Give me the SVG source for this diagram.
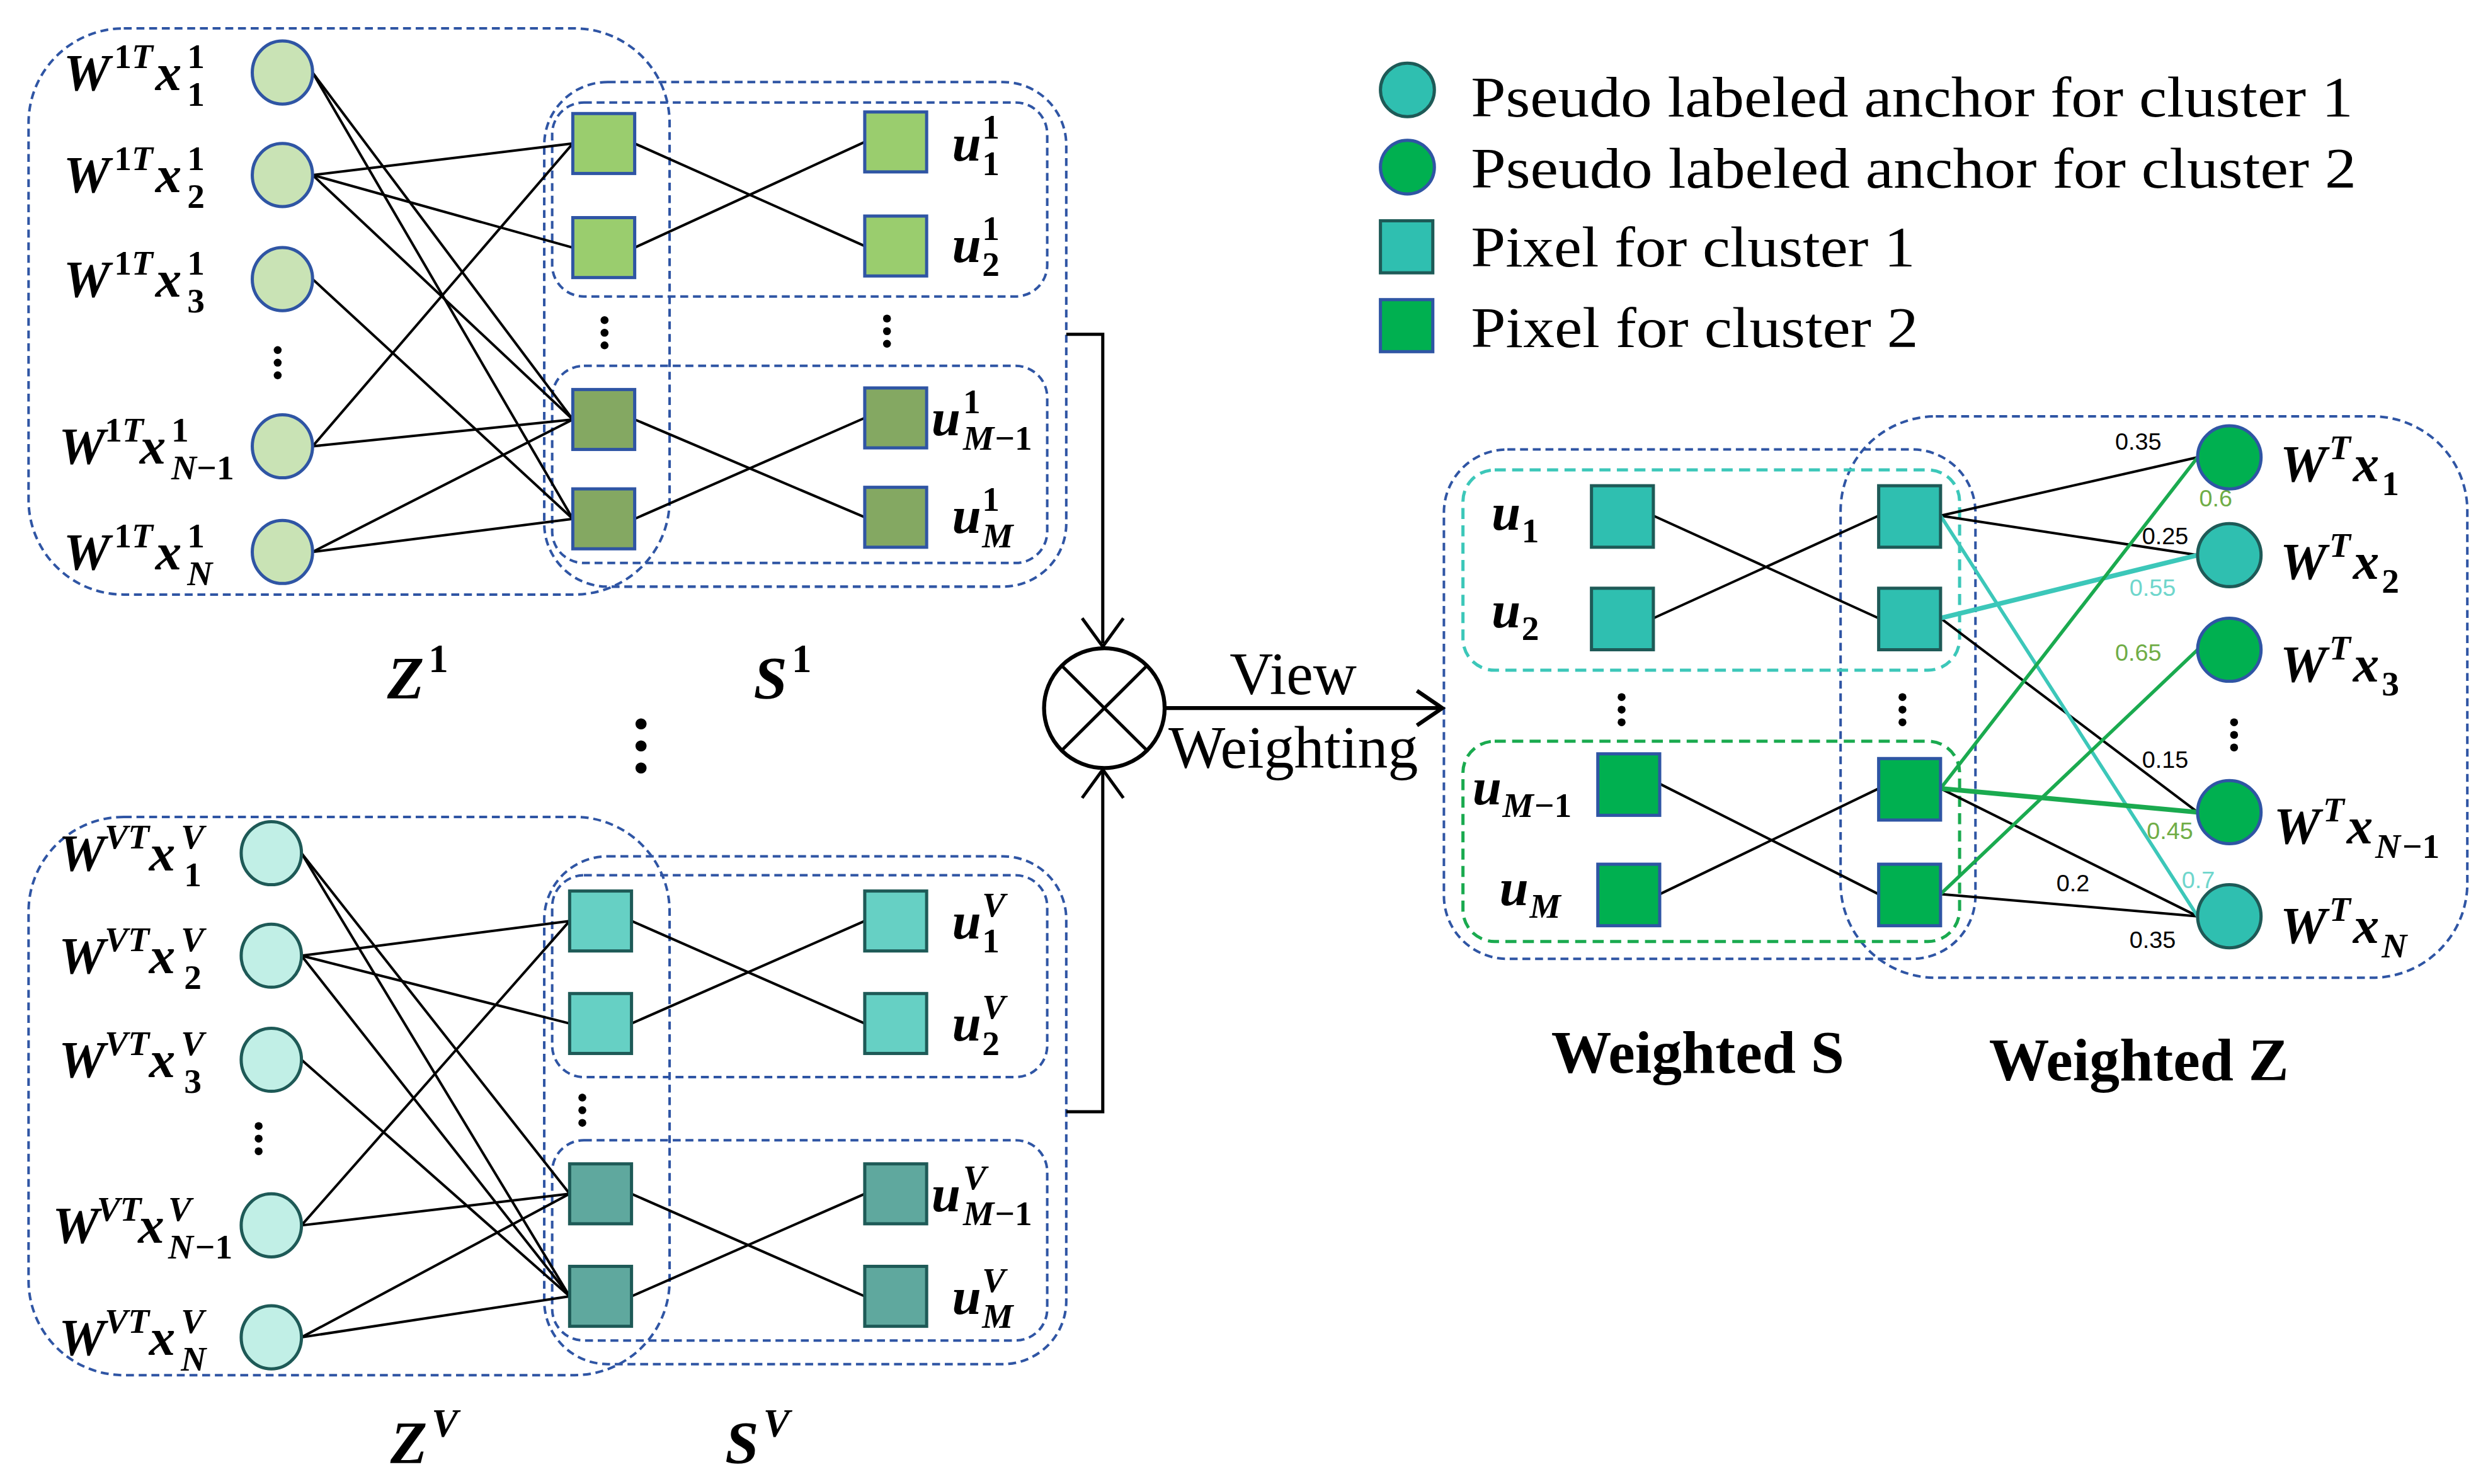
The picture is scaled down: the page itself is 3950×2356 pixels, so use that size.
<svg xmlns="http://www.w3.org/2000/svg" width="3950" height="2356" viewBox="0 0 3950 2356">
<style>
.bg{fill:#fff}
.db{fill:none;stroke:#2f55a4;stroke-width:1.6;stroke-dasharray:5 3}
.dt{fill:none;stroke:#3cc7b9;stroke-width:2;stroke-dasharray:7 4}
.dg{fill:none;stroke:#1aaa4f;stroke-width:2;stroke-dasharray:7 4}
.e line{stroke:#000;stroke-width:1.6}
.m text{font-family:"Liberation Serif",serif;font-weight:bold;font-style:italic;font-size:33px;fill:#000}
.m text.s{font-size:22px;font-style:normal}
.m text.si{font-size:22px}
.m text.big{font-size:38px}
.m text.bs{font-size:25px;font-style:normal}
.m text.bsi{font-size:25px}
.c1{fill:#c9e3b5;stroke:#2f55a4;stroke-width:2}
.q1{fill:#9acd6e;stroke:#2f55a4;stroke-width:2}
.q2{fill:#84a862;stroke:#2f55a4;stroke-width:2}
.cv{fill:#c1efe6;stroke:#1e5a57;stroke-width:2}
.qv1{fill:#66d0c4;stroke:#1e5a57;stroke-width:2}
.qv2{fill:#5fa89e;stroke:#1e5a57;stroke-width:2}
.tq{fill:#2fbfb0;stroke:#1e5a57;stroke-width:2}
.gq{fill:#00b050;stroke:#2f55a4;stroke-width:2}
.tc{fill:#2fbfb0;stroke:#1e5a57;stroke-width:2}
.gc{fill:#00b050;stroke:#2f55a4;stroke-width:2}
.lg{font-family:"Liberation Serif",serif;font-size:36px;fill:#000}
.vw{font-family:"Liberation Serif",serif;font-size:38px;fill:#000}
.bt{font-family:"Liberation Serif",serif;font-size:38px;font-weight:bold;fill:#000}
.w{font-family:"Liberation Sans",sans-serif;font-size:15px}
.dot{fill:#000}
</style>
<rect class="bg" width="3950" height="2356"/>
<g transform="scale(2.5191,2.5037)">
<g id="containers">
<rect class="db" x="18" y="18" width="404" height="359" rx="60"/>
<rect class="db" x="343" y="52" width="329" height="320" rx="40"/>
<rect class="db" x="348" y="65" width="312" height="123" rx="20"/>
<rect class="db" x="348" y="232" width="312" height="125" rx="20"/>
<rect class="db" x="18" y="518" width="404" height="354" rx="60"/>
<rect class="db" x="343" y="543" width="329" height="322" rx="40"/>
<rect class="db" x="348" y="555" width="312" height="128" rx="20"/>
<rect class="db" x="348" y="723" width="312" height="127" rx="20"/>
<rect class="db" x="910" y="285" width="335" height="323" rx="40"/>
<rect class="db" x="1160" y="264" width="395" height="356" rx="60"/>
<rect class="dt" x="922" y="298" width="313" height="127" rx="20"/>
<rect class="dg" x="922" y="470" width="313" height="127" rx="20"/>
</g>
<g id="connectors" class="e">
<line x1="197" y1="46" x2="361" y2="266"/><line x1="197" y1="46" x2="361" y2="329"/>
<line x1="197" y1="111" x2="361" y2="91"/><line x1="197" y1="111" x2="361" y2="157"/><line x1="197" y1="111" x2="361" y2="266"/>
<line x1="197" y1="177" x2="361" y2="329"/>
<line x1="197" y1="283" x2="361" y2="91"/><line x1="197" y1="283" x2="361" y2="266"/>
<line x1="197" y1="350" x2="361" y2="266"/><line x1="197" y1="350" x2="361" y2="329"/>
<line x1="400" y1="91" x2="545" y2="156"/><line x1="400" y1="157" x2="545" y2="90"/>
<line x1="400" y1="266" x2="545" y2="328"/><line x1="400" y1="329" x2="545" y2="265"/>
<line x1="190" y1="541" x2="359" y2="757"/><line x1="190" y1="541" x2="359" y2="822"/>
<line x1="190" y1="606" x2="359" y2="584"/><line x1="190" y1="606" x2="359" y2="649"/><line x1="190" y1="606" x2="359" y2="822"/>
<line x1="190" y1="672" x2="359" y2="822"/>
<line x1="190" y1="777" x2="359" y2="584"/><line x1="190" y1="777" x2="359" y2="757"/>
<line x1="190" y1="848" x2="359" y2="757"/><line x1="190" y1="848" x2="359" y2="822"/>
<line x1="398" y1="584" x2="545" y2="649"/><line x1="398" y1="649" x2="545" y2="584"/>
<line x1="398" y1="757" x2="545" y2="822"/><line x1="398" y1="822" x2="545" y2="757"/>
<line x1="1042" y1="327" x2="1184" y2="392"/><line x1="1042" y1="392" x2="1184" y2="327"/>
<line x1="1046" y1="497" x2="1184" y2="567"/><line x1="1046" y1="567" x2="1184" y2="500"/>
<line x1="1223" y1="327" x2="1385" y2="290"/><line x1="1223" y1="327" x2="1385" y2="352"/>
<line x1="1223" y1="392" x2="1385" y2="515"/>
<line x1="1223" y1="500" x2="1385" y2="581"/><line x1="1223" y1="567" x2="1385" y2="581"/>
<line x1="1223" y1="327" x2="1385" y2="581" style="stroke:#3cc7b9;stroke-width:2.2"/>
<line x1="1223" y1="392" x2="1385" y2="352" style="stroke:#3cc7b9;stroke-width:3"/>
<line x1="1223" y1="500" x2="1385" y2="290" style="stroke:#1aaa4f;stroke-width:2.2"/>
<line x1="1223" y1="500" x2="1385" y2="515" style="stroke:#1aaa4f;stroke-width:3"/>
<line x1="1223" y1="567" x2="1385" y2="412" style="stroke:#1aaa4f;stroke-width:2.2"/>
<polyline points="672,212 695,212 695,408" style="fill:none;stroke:#000;stroke-width:2"/>
<polyline points="682,392 695,410 708,392" style="fill:none;stroke:#000;stroke-width:2"/>
<polyline points="672,705 695,705 695,489" style="fill:none;stroke:#000;stroke-width:2"/>
<polyline points="682,506 695,488 708,506" style="fill:none;stroke:#000;stroke-width:2"/>
<line x1="734" y1="449" x2="908" y2="449" style="stroke-width:2.5"/>
<polyline points="893,438 909,449 893,460" style="fill:none;stroke:#000;stroke-width:2.5"/>
</g>
<g id="edge-weights" class="w">
<text x="1333" y="285">0.35</text>
<text x="1386" y="321" fill="#70ad47">0.6</text>
<text x="1350" y="345">0.25</text>
<text x="1342" y="378" fill="#6fd6cc">0.55</text>
<text x="1333" y="419" fill="#70ad47">0.65</text>
<text x="1350" y="487">0.15</text>
<text x="1353" y="532" fill="#70ad47">0.45</text>
<text x="1375" y="563" fill="#6fd6cc">0.7</text>
<text x="1296" y="565">0.2</text>
<text x="1342" y="601">0.35</text>
</g>
<g id="view-z1">
<ellipse class="c1" cx="178" cy="46" rx="19" ry="20"/><ellipse class="c1" cx="178" cy="111" rx="19" ry="20"/><ellipse class="c1" cx="178" cy="177" rx="19" ry="20"/><ellipse class="c1" cx="178" cy="283" rx="19" ry="20"/><ellipse class="c1" cx="178" cy="350" rx="19" ry="20"/>
<circle class="dot" cx="175" cy="222" r="2.5"/><circle class="dot" cx="175" cy="230" r="2.5"/><circle class="dot" cx="175" cy="238" r="2.5"/>
<g class="m">
<text x="40" y="57">W</text><text class="s" x="72" y="43">1</text><text class="si" x="83" y="43">T</text><text x="98" y="57">x</text><text class="s" x="118" y="43">1</text><text class="s" x="118" y="67">1</text>
<text x="40" y="122">W</text><text class="s" x="72" y="108">1</text><text class="si" x="83" y="108">T</text><text x="98" y="122">x</text><text class="s" x="118" y="108">1</text><text class="s" x="118" y="132">2</text>
<text x="40" y="188">W</text><text class="s" x="72" y="174">1</text><text class="si" x="83" y="174">T</text><text x="98" y="188">x</text><text class="s" x="118" y="174">1</text><text class="s" x="118" y="198">3</text>
<text x="37" y="294">W</text><text class="s" x="66" y="280">1</text><text class="si" x="77" y="280">T</text><text x="88" y="294">x</text><text class="s" x="108" y="280">1</text><text class="si" x="108" y="304">N</text><text class="s" x="124" y="304">−1</text>
<text x="40" y="361">W</text><text class="s" x="72" y="347">1</text><text class="si" x="83" y="347">T</text><text x="98" y="361">x</text><text class="s" x="118" y="347">1</text><text class="si" x="118" y="371">N</text>
</g>
</g>
<g id="view-s1">
<rect class="q1" x="361" y="72" width="39" height="38"/><rect class="q1" x="361" y="138" width="39" height="38"/>
<rect class="q2" x="361" y="247" width="39" height="38"/><rect class="q2" x="361" y="310" width="39" height="38"/>
<rect class="q1" x="545" y="71" width="39" height="38"/><rect class="q1" x="545" y="137" width="39" height="38"/>
<rect class="q2" x="545" y="246" width="39" height="38"/><rect class="q2" x="545" y="309" width="39" height="38"/>
<circle class="dot" cx="381" cy="203" r="2.5"/><circle class="dot" cx="381" cy="211" r="2.5"/><circle class="dot" cx="381" cy="219" r="2.5"/>
<circle class="dot" cx="559" cy="202" r="2.5"/><circle class="dot" cx="559" cy="210" r="2.5"/><circle class="dot" cx="559" cy="218" r="2.5"/>
<g class="m">
<text x="600" y="102">u</text><text class="s" x="619" y="88">1</text><text class="s" x="619" y="111">1</text>
<text x="600" y="166">u</text><text class="s" x="619" y="152">1</text><text class="s" x="619" y="175">2</text>
<text x="587" y="276">u</text><text class="s" x="607" y="262">1</text><text class="si" x="607" y="285">M</text><text class="s" x="627" y="285">−1</text>
<text x="600" y="338">u</text><text class="s" x="619" y="324">1</text><text class="si" x="619" y="347">M</text>
<text class="big" x="244" y="443">Z</text><text class="bs" x="270" y="426">1</text>
<text class="big" x="475" y="443">S</text><text class="bs" x="499" y="426">1</text>
</g>
</g>
<g id="view-dots">
<circle class="dot" cx="404" cy="459" r="3.5"/><circle class="dot" cx="404" cy="473" r="3.5"/><circle class="dot" cx="404" cy="487" r="3.5"/>
</g>
<g id="view-zv">
<ellipse class="cv" cx="171" cy="541" rx="19" ry="20"/><ellipse class="cv" cx="171" cy="606" rx="19" ry="20"/><ellipse class="cv" cx="171" cy="672" rx="19" ry="20"/><ellipse class="cv" cx="171" cy="777" rx="19" ry="20"/><ellipse class="cv" cx="171" cy="848" rx="19" ry="20"/>
<circle class="dot" cx="163" cy="714" r="2.5"/><circle class="dot" cx="163" cy="722" r="2.5"/><circle class="dot" cx="163" cy="730" r="2.5"/>
<g class="m">
<text x="37" y="552">W</text><text class="si" x="66" y="538">VT</text><text x="94" y="552">x</text><text class="si" x="114" y="538">V</text><text class="s" x="116" y="562">1</text>
<text x="37" y="617">W</text><text class="si" x="66" y="603">VT</text><text x="94" y="617">x</text><text class="si" x="114" y="603">V</text><text class="s" x="116" y="627">2</text>
<text x="37" y="683">W</text><text class="si" x="66" y="669">VT</text><text x="94" y="683">x</text><text class="si" x="114" y="669">V</text><text class="s" x="116" y="693">3</text>
<text x="33" y="788">W</text><text class="si" x="61" y="774">VT</text><text x="87" y="788">x</text><text class="si" x="106" y="774">V</text><text class="si" x="106" y="798">N</text><text class="s" x="123" y="798">−1</text>
<text x="37" y="859">W</text><text class="si" x="66" y="845">VT</text><text x="94" y="859">x</text><text class="si" x="114" y="845">V</text><text class="si" x="114" y="869">N</text>
</g>
</g>
<g id="view-sv">
<rect class="qv1" x="359" y="565" width="39" height="38"/><rect class="qv1" x="359" y="630" width="39" height="38"/>
<rect class="qv2" x="359" y="738" width="39" height="38"/><rect class="qv2" x="359" y="803" width="39" height="38"/>
<rect class="qv1" x="545" y="565" width="39" height="38"/><rect class="qv1" x="545" y="630" width="39" height="38"/>
<rect class="qv2" x="545" y="738" width="39" height="38"/><rect class="qv2" x="545" y="803" width="39" height="38"/>
<circle class="dot" cx="367" cy="696" r="2.5"/><circle class="dot" cx="367" cy="704" r="2.5"/><circle class="dot" cx="367" cy="712" r="2.5"/>
<g class="m">
<text x="600" y="595">u</text><text class="si" x="619" y="581">V</text><text class="s" x="619" y="604">1</text>
<text x="600" y="660">u</text><text class="si" x="619" y="646">V</text><text class="s" x="619" y="669">2</text>
<text x="587" y="768">u</text><text class="si" x="607" y="754">V</text><text class="si" x="607" y="777">M</text><text class="s" x="627" y="777">−1</text>
<text x="600" y="833">u</text><text class="si" x="619" y="819">V</text><text class="si" x="619" y="842">M</text>
<text class="big" x="246" y="928">Z</text><text class="bsi" x="272" y="911">V</text>
<text class="big" x="457" y="928">S</text><text class="bsi" x="481" y="911">V</text>
</g>
</g>
<g id="fusion">
<circle cx="696" cy="449" r="38" fill="#fff" stroke="#000" stroke-width="2.5"/>
<line x1="669" y1="422" x2="723" y2="476" stroke="#000" stroke-width="2"/><line x1="723" y1="422" x2="669" y2="476" stroke="#000" stroke-width="2"/>
<text class="vw" x="815" y="440" text-anchor="middle">View</text>
<text class="vw" x="815" y="487" text-anchor="middle">Weighting</text>
</g>
<g id="weighted-s">
<rect class="tq" x="1003" y="308" width="39" height="39"/><rect class="tq" x="1003" y="373" width="39" height="39"/>
<rect class="gq" x="1007" y="478" width="39" height="39"/><rect class="gq" x="1007" y="548" width="39" height="39"/>
<rect class="tq" x="1184" y="308" width="39" height="39"/><rect class="tq" x="1184" y="373" width="39" height="39"/>
<rect class="gq" x="1184" y="481" width="39" height="39"/><rect class="gq" x="1184" y="548" width="39" height="39"/>
<circle class="dot" cx="1022" cy="442" r="2.5"/><circle class="dot" cx="1022" cy="450" r="2.5"/><circle class="dot" cx="1022" cy="458" r="2.5"/>
<circle class="dot" cx="1199" cy="442" r="2.5"/><circle class="dot" cx="1199" cy="450" r="2.5"/><circle class="dot" cx="1199" cy="458" r="2.5"/>
<g class="m">
<text x="940" y="336">u</text><text class="s" x="959" y="344">1</text>
<text x="940" y="398">u</text><text class="s" x="959" y="406">2</text>
<text x="928" y="510">u</text><text class="si" x="947" y="518">M</text><text class="s" x="967" y="518">−1</text>
<text x="945" y="574">u</text><text class="si" x="964" y="582">M</text>
</g>
<text class="bt" x="1070" y="680" text-anchor="middle">Weighted S</text>
</g>
<g id="weighted-z">
<circle class="gc" cx="1405" cy="290" r="20"/><circle class="tc" cx="1405" cy="352" r="20"/><circle class="gc" cx="1405" cy="412" r="20"/><circle class="gc" cx="1405" cy="515" r="20"/><circle class="tc" cx="1405" cy="581" r="20"/>
<circle class="dot" cx="1408" cy="458" r="2.5"/><circle class="dot" cx="1408" cy="466" r="2.5"/><circle class="dot" cx="1408" cy="474" r="2.5"/>
<g class="m">
<text x="1437" y="305">W</text><text class="si" x="1468" y="291">T</text><text x="1483" y="305">x</text><text class="s" x="1501" y="314">1</text>
<text x="1437" y="367">W</text><text class="si" x="1468" y="353">T</text><text x="1483" y="367">x</text><text class="s" x="1501" y="376">2</text>
<text x="1437" y="432">W</text><text class="si" x="1468" y="418">T</text><text x="1483" y="432">x</text><text class="s" x="1501" y="441">3</text>
<text x="1433" y="535">W</text><text class="si" x="1464" y="521">T</text><text x="1479" y="535">x</text><text class="si" x="1497" y="544">N</text><text class="s" x="1514" y="544">−1</text>
<text x="1437" y="598">W</text><text class="si" x="1468" y="584">T</text><text x="1483" y="598">x</text><text class="si" x="1501" y="607">N</text>
</g>
<text class="bt" x="1348" y="685" text-anchor="middle">Weighted Z</text>
</g>
<g id="legend">
<circle class="tc" cx="887" cy="57" r="17"/><text class="lg" x="927" y="74" textLength="556" lengthAdjust="spacingAndGlyphs">Pseudo labeled anchor for cluster 1</text>
<circle class="gc" cx="887" cy="106" r="17"/><text class="lg" x="927" y="119" textLength="558" lengthAdjust="spacingAndGlyphs">Pseudo labeled anchor for cluster 2</text>
<rect class="tq" x="870" y="140" width="33" height="33"/><text class="lg" x="927" y="169" textLength="280" lengthAdjust="spacingAndGlyphs">Pixel for cluster 1</text>
<rect class="gq" x="870" y="190" width="33" height="33"/><text class="lg" x="927" y="220" textLength="282" lengthAdjust="spacingAndGlyphs">Pixel for cluster 2</text>
</g>
</g>
</svg>
